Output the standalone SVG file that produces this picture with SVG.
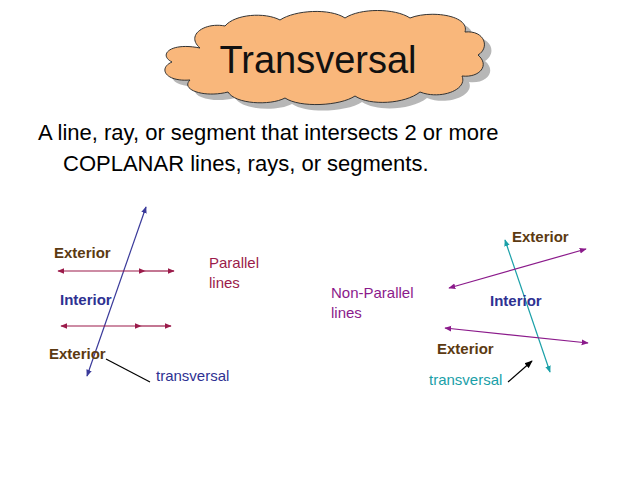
<svg xmlns="http://www.w3.org/2000/svg" width="638" height="478" viewBox="0 0 638 478">
<style>
text{font-family:"Liberation Sans",Arial,sans-serif}
.b{font-weight:bold;font-size:15px}
.ext{fill:#5c3a12}.int{fill:#2e3192}
.lab{font-size:15px}
</style>
<defs>
<marker id="ar" viewBox="0 0 10 10" refX="9" refY="5" markerWidth="7" markerHeight="7" orient="auto-start-reverse" markerUnits="userSpaceOnUse"><path d="M0,1 L10,5 L0,9 Z" fill="context-stroke"/></marker>
<marker id="ap" viewBox="0 0 10 10" refX="9" refY="5" markerWidth="7" markerHeight="7" orient="auto-start-reverse" markerUnits="userSpaceOnUse"><path d="M0,1 L10,5 L0,9 Z" fill="#9b1b4a"/></marker>
<marker id="av" viewBox="0 0 10 10" refX="9" refY="5" markerWidth="7" markerHeight="7" orient="auto-start-reverse" markerUnits="userSpaceOnUse"><path d="M0,1 L10,5 L0,9 Z" fill="#8b1a8b"/></marker>
<marker id="ab" viewBox="0 0 10 10" refX="9" refY="5" markerWidth="7" markerHeight="7" orient="auto-start-reverse" markerUnits="userSpaceOnUse"><path d="M0,1 L10,5 L0,9 Z" fill="#3a3a9a"/></marker>
<marker id="at" viewBox="0 0 10 10" refX="9" refY="5" markerWidth="7" markerHeight="7" orient="auto-start-reverse" markerUnits="userSpaceOnUse"><path d="M0,1 L10,5 L0,9 Z" fill="#1aa0a8"/></marker>
<marker id="ak" viewBox="0 0 10 10" refX="9" refY="5" markerWidth="8" markerHeight="8" orient="auto" markerUnits="userSpaceOnUse"><path d="M0,1 L10,5 L0,9 Z" fill="#000"/></marker>
<path id="cloud" d="M200,48 C185,35 205,22 225,26 C235,14 265,12 280,20 C295,10 330,8 345,18 C360,8 395,8 410,18 C430,10 470,15 465,32 C485,30 490,48 478,55 C490,65 480,78 462,76 C468,90 440,100 420,92 C405,104 370,106 355,96 C340,106 300,108 285,98 C270,106 235,104 228,92 C205,98 180,90 190,80 C165,82 158,68 172,62 C158,55 170,42 200,48 Z"/>
</defs>
<g id="title">
<use href="#cloud" transform="translate(7,6)" fill="#999" opacity="0.7"/>
<use href="#cloud" fill="#f9b77b" stroke="#333" stroke-width="1"/>
<text x="318" y="73" font-size="38" text-anchor="middle" fill="#111">Transversal</text>
</g>
<g id="def" font-size="22" fill="#000">
<text x="38" y="140" style="font-size:22px">A line, ray, or segment that intersects 2 or more</text>
<text x="63" y="171" style="font-size:22px">COPLANAR lines, rays, or segments.</text>
</g>
<g id="connectors" stroke-width="1.2" fill="none">
<line x1="87" y1="376" x2="146" y2="207" stroke="#3a3a9a" marker-start="url(#ab)" marker-end="url(#ab)"/>
<line x1="58" y1="271" x2="145" y2="271" stroke="#9b1b4a" marker-start="url(#ap)" marker-end="url(#ap)"/>
<line x1="145" y1="271" x2="174" y2="271" stroke="#9b1b4a" marker-end="url(#ap)"/>
<line x1="61" y1="326" x2="141" y2="326" stroke="#9b1b4a" marker-start="url(#ap)" marker-end="url(#ap)"/>
<line x1="141" y1="326" x2="171" y2="326" stroke="#9b1b4a" marker-end="url(#ap)"/>
<line x1="106" y1="359" x2="150" y2="382" stroke="#000"/>
<line x1="550" y1="372" x2="505" y2="240" stroke="#1aa0a8" marker-start="url(#at)" marker-end="url(#at)"/>
<line x1="449" y1="288" x2="586" y2="249" stroke="#8b1a8b" marker-start="url(#av)" marker-end="url(#av)"/>
<line x1="445" y1="328" x2="588" y2="343" stroke="#8b1a8b" marker-start="url(#av)" marker-end="url(#av)"/>
<line x1="508" y1="382" x2="532" y2="361" stroke="#000" marker-end="url(#ak)"/>
</g>
<g id="left-labels">
<text class="b ext" x="54" y="258">Exterior</text>
<text class="b int" x="60" y="305">Interior</text>
<text class="b ext" x="49" y="359">Exterior</text>
<text class="lab" x="209" y="268" fill="#9b1b4a">Parallel</text>
<text class="lab" x="209" y="288" fill="#9b1b4a">lines</text>
<text class="lab" x="156" y="381" fill="#2e3192">transversal</text>
</g>
<g id="right-labels">
<text class="b ext" x="512" y="242">Exterior</text>
<text class="b int" x="490" y="306">Interior</text>
<text class="b ext" x="437" y="354">Exterior</text>
<text class="lab" x="331" y="298" fill="#8b1a8b">Non-Parallel</text>
<text class="lab" x="331" y="318" fill="#8b1a8b">lines</text>
<text class="lab" x="429" y="385" fill="#1aa0a8">transversal</text>
</g>
</svg>
